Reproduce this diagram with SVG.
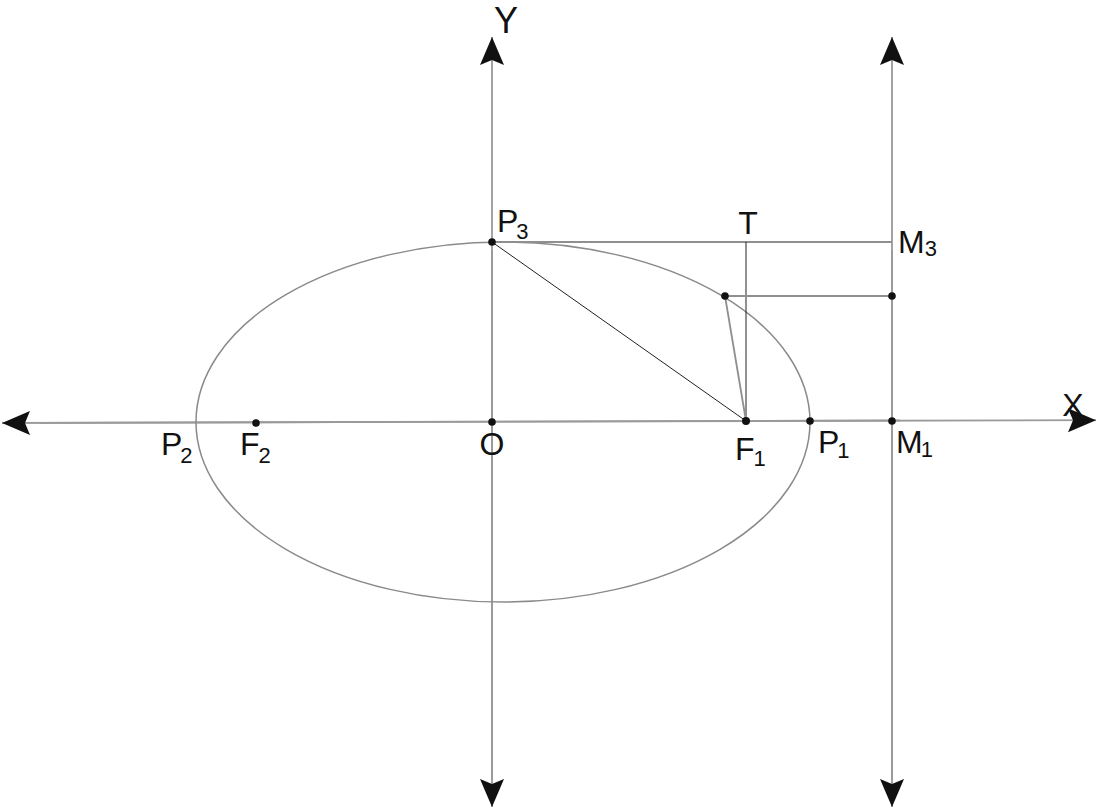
<svg xmlns="http://www.w3.org/2000/svg" width="1098" height="810" viewBox="0 0 1098 810">
<style>
  .axis{stroke:#9a9a9a;stroke-width:1.8;fill:none}
  .ell{stroke:#8a8a8a;stroke-width:1.5;fill:none}
  .thin{stroke:#222;stroke-width:1;fill:none}
  .gray{stroke:#8f8f8f;stroke-width:1.8;fill:none}
  .dot{fill:#111}
  text{font-family:"Liberation Sans",Arial,sans-serif;fill:#111}
  .lbl{font-size:32px}
  .sub{font-size:22px}
  .big{font-size:36px}
</style>
<defs>
  <marker id="arr" markerUnits="userSpaceOnUse" viewBox="-29 -13 30 26" markerWidth="30" markerHeight="26" refX="0" refY="0" orient="auto">
    <path d="M0,0 L-28,-12 L-23,0 L-28,12 Z" fill="#111"/>
  </marker>
</defs>
<rect width="1098" height="810" fill="#fff"/>
<g id="connectors">
  <line class="axis" x1="492" y1="780" x2="492" y2="37" marker-end="url(#arr)"/>
  <line class="axis" x1="492" y1="250" x2="492" y2="807" marker-end="url(#arr)"/>
  <line class="axis" x1="892" y1="780" x2="892" y2="37" marker-end="url(#arr)"/>
  <line class="axis" x1="892" y1="250" x2="892" y2="807" marker-end="url(#arr)"/>
  <line class="axis" x1="40" y1="422.8" x2="1096" y2="420.2" marker-end="url(#arr)"/>
  <line class="axis" x1="900" y1="420.5" x2="2" y2="423" marker-end="url(#arr)"/>
  <ellipse class="ell" cx="503" cy="422" rx="307" ry="180"/>
  <line class="gray" x1="492" y1="242" x2="892" y2="242"/>
  <line class="thin" x1="746" y1="242" x2="746" y2="421"/>
  <line class="thin" x1="492" y1="242" x2="746" y2="421"/>
  <line class="gray" x1="725" y1="296" x2="892" y2="296"/>
  <line class="gray" x1="725" y1="296" x2="746" y2="421"/>
</g>
<g id="Y"><text class="big" x="506" y="33" text-anchor="middle">Y</text></g>
<g id="X"><text class="lbl" x="1073" y="416" text-anchor="middle">X</text></g>
<g id="P3"><circle class="dot" cx="492" cy="242" r="3.8"/><text class="lbl" x="497" y="232">P<tspan class="sub" dx="-2" dy="7">3</tspan></text></g>
<g id="T"><text class="lbl" x="748" y="234" text-anchor="middle">T</text></g>
<g id="M3"><text class="lbl" x="898" y="253">M<tspan class="sub" dx="0" dy="3">3</tspan></text></g>
<g id="Q"><circle class="dot" cx="725" cy="296" r="3.8"/></g>
<g id="Q2"><circle class="dot" cx="892" cy="296" r="3.8"/></g>
<g id="O"><circle class="dot" cx="492" cy="422" r="3.8"/><text class="lbl" x="492" y="455" text-anchor="middle">O</text></g>
<g id="F1"><circle class="dot" cx="746" cy="421" r="4"/><text class="lbl" x="735" y="460">F<tspan class="sub" dx="-1" dy="6">1</tspan></text></g>
<g id="P1"><circle class="dot" cx="810" cy="421" r="3.8"/><text class="lbl" x="818" y="453">P<tspan class="sub" dx="-2" dy="5">1</tspan></text></g>
<g id="M1"><circle class="dot" cx="892" cy="421" r="3.8"/><text class="lbl" x="896" y="453">M<tspan class="sub" dx="-2" dy="4">1</tspan></text></g>
<g id="P2"><text class="lbl" x="161" y="455">P<tspan class="sub" dx="-2" dy="8">2</tspan></text></g>
<g id="F2"><circle class="dot" cx="256" cy="423" r="3.8"/><text class="lbl" x="240" y="455">F<tspan class="sub" dx="-1" dy="8">2</tspan></text></g>
</svg>
